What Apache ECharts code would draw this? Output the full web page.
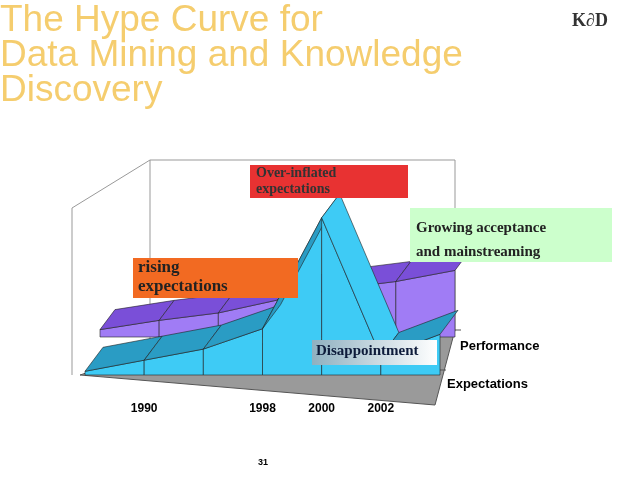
<!DOCTYPE html>
<html>
<head>
<meta charset="utf-8">
<script src="https://cdn.jsdelivr.net/npm/echarts@6/dist/echarts.min.js"></script>
<style>html,body{margin:0;padding:0;background:#fff}#chart{width:638px;height:479px}</style>
</head>
<body>
<div id="chart"></div>
<script>
// categories along the time axis
let years = ['1986', '1990', '1994', '1998', '2000', '2002', '2004']
let shownYears = ['1990', '1998', '2000', '2002']
// hype curve heights (0-100)
let expectations = [2, 8, 14, 25, 85, 10, 22]
let performance = [4, 9, 13, 20, 26, 30, 36]

// pseudo 3D ribbon: front face down to the floor plus a slanted top strip
function ribbon(values, shift, depth, topColor, sideColor) {
	return function(params, api) {
		let i = api.value(0)
		if (i >= values.length - 1) return null
		let a = api.coord([i, values[i]])
		let b = api.coord([i + 1, values[i + 1]])
		let a0 = api.coord([i, 0])
		let b0 = api.coord([i + 1, 0])
		let s = function(p, d) { return [p[0] + shift[0] + d[0], p[1] + shift[1] + d[1]] }
		let z = [0, 0]
		let up = values[i + 1] >= values[i]
		return {
			type: 'group',
			children: [{
				type: 'polygon',
				shape: { points: [s(a0, z), s(a, z), s(b, z), s(b0, z)] },
				style: { fill: sideColor, stroke: '#222', lineWidth: 0.6 }
			}, {
				type: 'polygon',
				shape: { points: [s(a, z), s(b, z), s(b, depth), s(a, depth)] },
				style: { fill: up ? topColor : sideColor, stroke: '#222', lineWidth: 0.6 }
			}]
		}
	}
}

var chart = echarts.init(document.getElementById('chart'))
chart.setOption({
	animation: false,
	grid: { left: 85, right: 198, top: 190, bottom: 104 },
	xAxis: {
		type: 'category',
		boundaryGap: false,
		data: years,
		axisLine: { show: false },
		axisTick: { show: false },
		axisLabel: {
			margin: 28,
			color: '#000',
			fontWeight: 'bold',
			fontFamily: 'Liberation Sans',
			fontSize: 12,
			interval: 0,
			formatter: function(v) { return shownYears.indexOf(v) >= 0 ? v : '' }
		}
	},
	yAxis: { type: 'value', min: 0, max: 100, show: false },
	graphic: [
		{ type: 'text', left: 0, top: 2, style: { text: 'The Hype Curve for\nData Mining and Knowledge\nDiscovery', fill: '#F5CD6E', font: '37px "Liberation Sans"', lineHeight: 35 } },
		// floor and back box
		{ type: 'polygon', z: -1, shape: { points: [[80, 375], [150, 352], [455, 330], [435, 405]] }, style: { fill: '#9a9a9a', stroke: '#555' } },
		{ type: 'polyline', z: -2, shape: { points: [[72, 375], [72, 208], [150, 160], [455, 160], [455, 330]] }, style: { stroke: '#999', fill: null } },
		{ type: 'line', z: -2, shape: { x1: 150, y1: 160, x2: 150, y2: 352 }, style: { stroke: '#999' } },
		{ type: 'line', shape: { x1: 455, y1: 330, x2: 461, y2: 330 }, style: { stroke: '#555' } },
		{ type: 'line', shape: { x1: 438, y1: 370, x2: 446, y2: 370 }, style: { stroke: '#555' } },
		{ type: 'text', left: 460, top: 340, style: { text: 'Performance', fill: '#000', font: 'bold 13px "Liberation Sans"' } },
		{ type: 'text', left: 447, top: 378, style: { text: 'Expectations', fill: '#000', font: 'bold 13px "Liberation Sans"' } },
		// callouts
		{ type: 'group', left: 250, top: 165, z: 10, children: [
			{ type: 'rect', z: 10, shape: { width: 158, height: 33 }, style: { fill: '#E83232' } },
			{ type: 'text', z: 11, left: 6, top: 0, style: { text: 'Over-inflated\nexpectations', fill: '#333', font: 'bold 14px "Liberation Serif"', lineHeight: 16 } }
		] },
		{ type: 'group', left: 410, top: 208, z: 10, children: [
			{ type: 'rect', z: 10, shape: { width: 202, height: 54 }, style: { fill: '#CCFFCC' } },
			{ type: 'text', z: 11, left: 6, top: 8, style: { text: 'Growing acceptance\nand mainstreaming', fill: '#222', font: 'bold 15px "Liberation Serif"', lineHeight: 24 } }
		] },
		{ type: 'group', left: 133, top: 258, z: 10, children: [
			{ type: 'rect', z: 10, shape: { width: 165, height: 40 }, style: { fill: '#F26A22' } },
			{ type: 'text', z: 11, left: 5, top: 0, style: { text: 'rising\nexpectations', fill: '#222', font: 'bold 17px "Liberation Serif"', lineHeight: 19 } }
		] },
		{ type: 'group', left: 312, top: 340, z: 10, children: [
			{ type: 'rect', z: 10, shape: { width: 125, height: 25 }, style: { fill: new echarts.graphic.LinearGradient(0, 0, 1, 0, [{ offset: 0, color: '#8fb0c0' }, { offset: 1, color: '#ffffff' }]) } },
			{ type: 'text', z: 11, left: 4, top: 4, style: { text: 'Disappointment', fill: '#0d1b3a', font: 'bold 15px "Liberation Serif"' } }
		] },
		{ type: 'text', left: 258, top: 458, style: { text: '31', fill: '#000', font: 'bold 9px "Liberation Sans"' } },
		{ type: 'text', left: 572, top: 12, style: { text: 'K∂D', fill: '#333', font: 'bold 18px "Liberation Serif"' } }
	],
	series: [{
		name: 'Performance',
		type: 'custom',
		z: 1,
		renderItem: ribbon(performance, [15, -38], [15, -20], '#7a4fd8', '#a07cf5'),
		data: years.map(function(y, i) { return [i, performance[i]] })
	}, {
		name: 'Expectations',
		type: 'custom',
		z: 2,
		renderItem: ribbon(expectations, [0, 0], [18, -24], '#2a9cc4', '#3ecbf5'),
		data: years.map(function(y, i) { return [i, expectations[i]] })
	}]
})
</script>
</body>
</html>
